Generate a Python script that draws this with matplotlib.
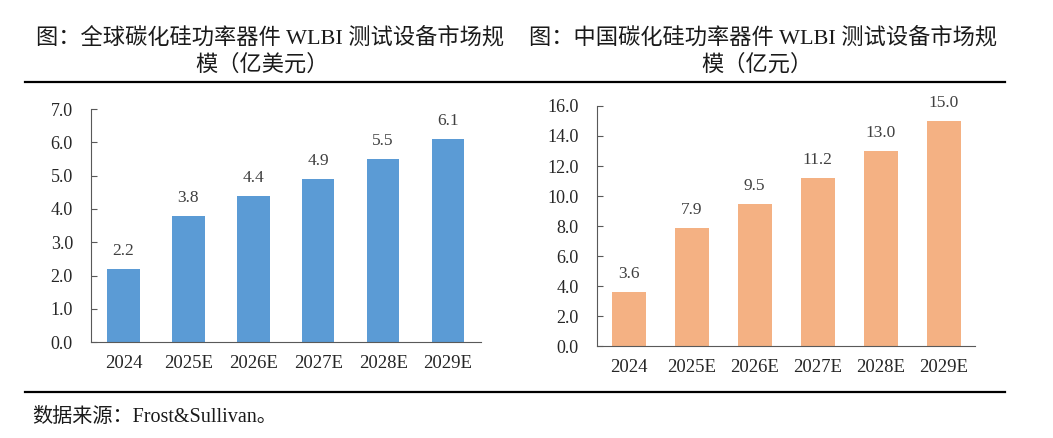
import matplotlib
matplotlib.use("Agg")
import matplotlib.pyplot as plt
from matplotlib.lines import Line2D
import numpy as np

plt.rcParams["font.family"] = ["Liberation Serif", "Noto Sans CJK SC"]

years = ["2024", "2025E", "2026E", "2027E", "2028E", "2029E"]
global_vals = [2.2, 3.8, 4.4, 4.9, 5.5, 6.1]
china_vals = [3.6, 7.9, 9.5, 11.2, 13.0, 15.0]

BLUE = "#5B9BD5"
ORANGE = "#F4B183"
SPINE = "#595959"
TXT = "#262626"

fig = plt.figure(figsize=(10.53, 4.38), dpi=100)

ax1 = fig.add_axes([0.0864, 0.219, 0.370, 0.532])
ax2 = fig.add_axes([0.567, 0.210, 0.359, 0.548])


def panel(ax, vals, color, ymax, step, width):
    x = np.arange(len(years))
    ax.bar(x, vals, width=width, color=color, zorder=2)
    for xi, v in zip(x, vals):
        ax.annotate(f"{v:.1f}", (xi, v), xytext=(0, 7), textcoords="offset points",
                    ha="center", va="bottom", fontsize=12.5, color="#404040")
    ax.set_xlim(-0.5, len(years) - 0.5)
    ax.set_ylim(0, ymax)
    ticks = np.arange(0, ymax + step / 2, step)
    ax.set_yticks(ticks)
    ax.set_yticklabels([f"{t:.1f}" for t in ticks])
    ax.set_xticks(x)
    ax.set_xticklabels(years)
    for s in ["top", "right"]:
        ax.spines[s].set_visible(False)
    ax.spines["left"].set_color(SPINE)
    ax.spines["bottom"].set_color(SPINE)
    ax.tick_params(axis="y", direction="in", length=4, color=SPINE, labelsize=13, labelcolor=TXT, pad=13)
    ax.tick_params(axis="x", length=0, labelsize=13.5, labelcolor=TXT, pad=9)


panel(ax1, global_vals, BLUE, 7.0, 1.0, 0.5)
panel(ax2, china_vals, ORANGE, 16.0, 2.0, 0.54)

fig.text(0.256, 0.913, "图：全球碳化硅功率器件 WLBI 测试设备市场规", ha="center", va="center", fontsize=16, color="#1a1a1a")
fig.text(0.249, 0.852, "模（亿美元）", ha="center", va="center", fontsize=16, color="#1a1a1a")
fig.text(0.725, 0.913, "图：中国碳化硅功率器件 WLBI 测试设备市场规", ha="center", va="center", fontsize=16, color="#1a1a1a")
fig.text(0.719, 0.852, "模（亿元）", ha="center", va="center", fontsize=16, color="#1a1a1a")

fig.add_artist(Line2D([25 / 1053, 1005 / 1053], [1 - 82 / 438] * 2, color="black", lw=1.6))
fig.add_artist(Line2D([25 / 1053, 1005 / 1053], [1 - 392 / 438] * 2, color="black", lw=1.6))

fig.text(32 / 1053, 1 - 417 / 438, "数据来源：Frost&Sullivan。", ha="left", va="center", fontsize=14.5, color="#1a1a1a")

fig.savefig("out.png", dpi=100, facecolor="white")
